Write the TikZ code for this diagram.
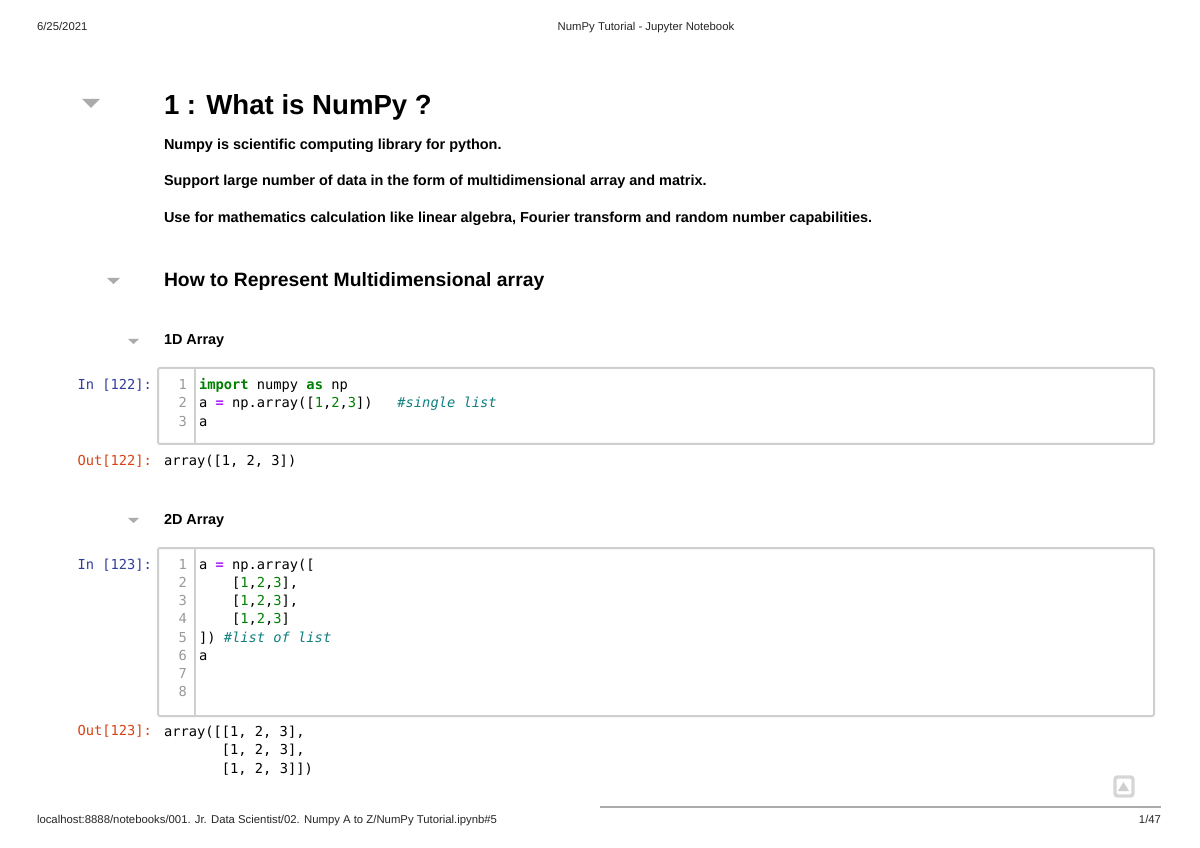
\documentclass[tikz,border=0pt]{standalone}
\usepackage{fontspec}
\usepackage{xcolor}
\setmainfont{Liberation Sans}
\setmonofont{DejaVu Sans Mono}
\definecolor{LGray}{HTML}{CFCFCF}
\definecolor{RuleGray}{HTML}{ABABAB}
\definecolor{NumGray}{HTML}{999999}
\definecolor{InBlue}{HTML}{303F9F}
\definecolor{OutRed}{HTML}{D84315}
\definecolor{KwGreen}{HTML}{008000}
\definecolor{OpPurple}{HTML}{AA22FF}
\definecolor{CmTeal}{HTML}{107F7F}
\newcommand{\kw}[1]{\textcolor{KwGreen}{\bfseries #1}}
\newcommand{\nm}[1]{\textcolor{KwGreen}{#1}}
\newcommand{\eqop}{\textcolor{OpPurple}{\bfseries =}}
\newcommand{\cm}[1]{\textcolor{CmTeal}{\itshape #1}}
\tikzset{
  x=0.75pt,y=-0.75pt,
  txt/.style={anchor=base west,inner sep=0pt,outer sep=0pt},
  foot/.style={txt,font=\fontsize{8.5}{10}\selectfont,text=black!85},
  para/.style={txt,font=\fontsize{10.85}{13}\selectfont\bfseries},
  code/.style={txt,font=\fontsize{10.3}{12}\ttfamily},
  prompt/.style={code,anchor=base east},
  lineno/.style={code,anchor=base east,text=NumGray},
  cellbox/.style={draw=LGray,line width=1.5pt,rounded corners=1.5pt,fill=white},
  gutter/.style={draw=LGray,line width=0.9pt},
  collapser/.style={fill=RuleGray}
}
\begin{document}
\begin{tikzpicture}
\useasboundingbox (0,0) rectangle (1200,848);
\fill[white] (0,0) rectangle (1200,848);

% page header
\node[foot] (date) at (37,31) {6/25/2021};
\node[foot,anchor=base] (pagetitle) at (646,31) {NumPy Tutorial - Jupyter Notebook};

% headings
\fill[collapser] (82,99) -- (100,99) -- (91,108) -- cycle;
\node[txt,font=\fontsize{20.7}{25}\selectfont\bfseries] (title) at (164,115) {1 : What is NumPy ?};
\node[para] (line1) at (164,150) {Numpy is scientific computing library for python.};
\node[para] (line2) at (164,186) {Support large number of data in the form of multidimensional array and matrix.};
\node[para] (line3) at (164,223) {Use for mathematics calculation like linear algebra, Fourier transform and random number capabilities.};

\fill[collapser] (107,278) -- (120,278) -- (113.5,284) -- cycle;
\node[txt,font=\fontsize{14.5}{17}\selectfont\bfseries] (howto) at (164,287) {How to Represent Multidimensional array};

% 1D cell
\fill[collapser] (128,339) -- (139,339) -- (133.5,344) -- cycle;
\node[para] (oned) at (164,345) {1D Array};
\node[prompt,text=InBlue] (in122) at (152,390) {In [122]:};
\draw[cellbox] (158,368) rectangle (1154,444);
\draw[gutter] (195,368) -- (195,444);
\foreach \n/\y in {1/390,2/408,3/427}
  \node[lineno] (numa\n) at (187,\y) {\n};
\node[code] (codea1) at (199,390) {\kw{import} numpy \kw{as} np};
\node[code] (codea2) at (199,408) {a \eqop{} np.array([\nm{1},\nm{2},\nm{3}])~~~\cm{\#single list}};
\node[code] (codea3) at (199,427) {a};
\node[prompt,text=OutRed] (out122) at (152,465) {Out[122]:};
\node[code] (resa) at (164,466) {array([1, 2, 3])};

% 2D cell
\fill[collapser] (128,518) -- (139,518) -- (133.5,523) -- cycle;
\node[para] (twod) at (164,524.5) {2D Array};
\node[prompt,text=InBlue] (in123) at (152,569) {In [123]:};
\draw[cellbox] (158,548) rectangle (1154,716);
\draw[gutter] (195,548) -- (195,716);
\foreach \n/\y in {1/569,2/587,3/605,4/623,5/642,6/660,7/678,8/696}
  \node[lineno] (numb\n) at (187,\y) {\n};
\node[code] (codeb1) at (199,569) {a \eqop{} np.array([};
\node[code] (codeb2) at (199,587) {~~~~[\nm{1},\nm{2},\nm{3}],};
\node[code] (codeb3) at (199,605) {~~~~[\nm{1},\nm{2},\nm{3}],};
\node[code] (codeb4) at (199,623) {~~~~[\nm{1},\nm{2},\nm{3}]};
\node[code] (codeb5) at (199,642) {]) \cm{\#list of list}};
\node[code] (codeb6) at (199,660) {a};
\node[prompt,text=OutRed] (out123) at (152,735) {Out[123]:};
\node[code] (resb1) at (164,736) {array([[1, 2, 3],};
\node[code] (resb2) at (164,754) {~~~~~~~[1, 2, 3],};
\node[code] (resb3) at (164,773) {~~~~~~~[1, 2, 3]])};

% scroll icon and footer
\draw[LGray!85,line width=2.6pt,rounded corners=2pt] (1115,777) rectangle (1133,796);
\fill[LGray] (1118,791) -- (1129,791) -- (1123.5,782) -- cycle;
\draw[RuleGray,line width=1.7pt] (600,807) -- (1161,807);
\node[foot] (url) at (37,823) {localhost:8888/notebooks/001. Jr. Data Scientist/02. Numpy A to Z/NumPy Tutorial.ipynb\#5};
\node[foot,anchor=base east] (pageno) at (1161,823) {1/47};
\end{tikzpicture}
\end{document}
